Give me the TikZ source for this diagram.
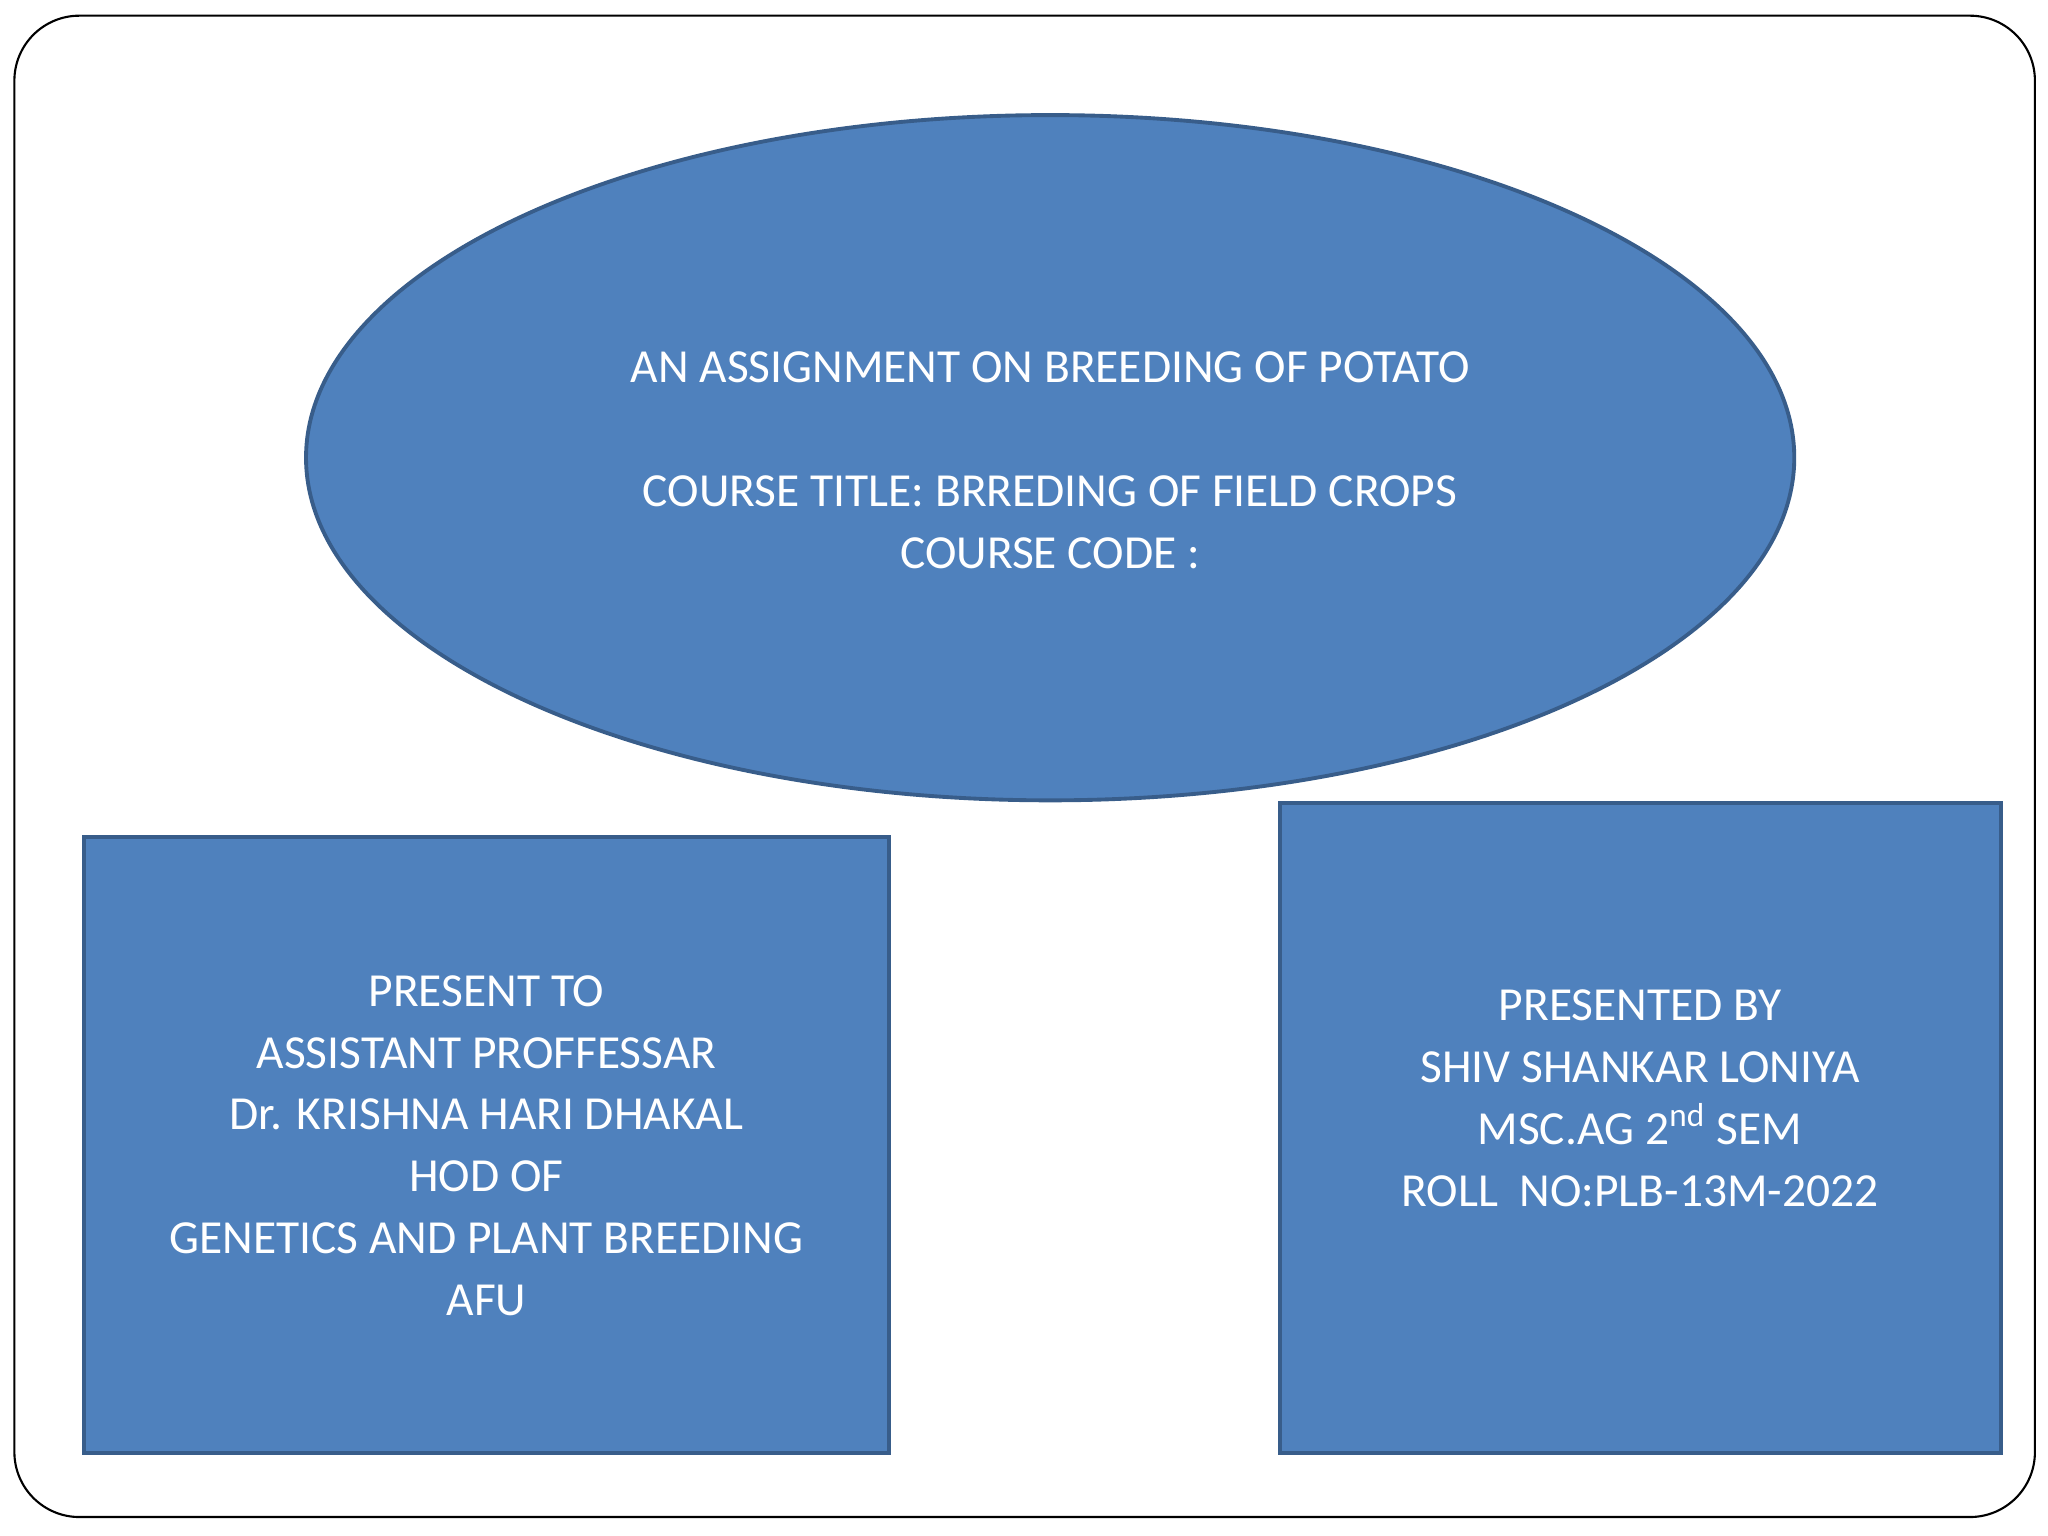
\documentclass[tikz,border=0pt]{standalone}
\usepackage{fontspec}
\setmainfont{Carlito}
\usetikzlibrary{shapes.geometric}
\definecolor{fillb}{HTML}{4F81BD}
\definecolor{lineb}{HTML}{385D8A}
\begin{document}
\begin{tikzpicture}[x=0.013078cm,y=-0.013078cm,
  shp/.style={fill=fillb,draw=lineb,line width=1.1pt},
  txt/.style={text=white,align=center,font=\fontsize{13.5}{17.6}\selectfont}]
\useasboundingbox (0,0) rectangle (1566,1174.5);
\draw[line width=0.6pt,rounded corners=0.65cm] (11,12) rectangle (1556,1160);
\node[shp,ellipse,minimum width=1138*0.013078cm,minimum height=524*0.013078cm] (ell) at (803,350) {};
\node[txt] (ellt) at (803,352) {AN ASSIGNMENT ON BREEDING OF POTATO\\[17.6pt]COURSE TITLE: BRREDING OF FIELD CROPS\\COURSE CODE :};
\draw[shp] (64,640) rectangle (680,1111);
\coordinate (lc) at (372,876);
\node[txt] (lt) at (lc) {PRESENT TO\\ASSISTANT PROFFESSAR\\Dr. KRISHNA HARI DHAKAL\\HOD OF\\GENETICS AND PLANT BREEDING\\AFU};
\draw[shp] (979,614) rectangle (1530,1111);
\node[txt] (rt) at (1254,840) {PRESENTED BY\\SHIV SHANKAR LONIYA\\MSC.AG 2\textsuperscript{nd} SEM\\ROLL\ \ NO:PLB-13M-2022};
\end{tikzpicture}
\end{document}
